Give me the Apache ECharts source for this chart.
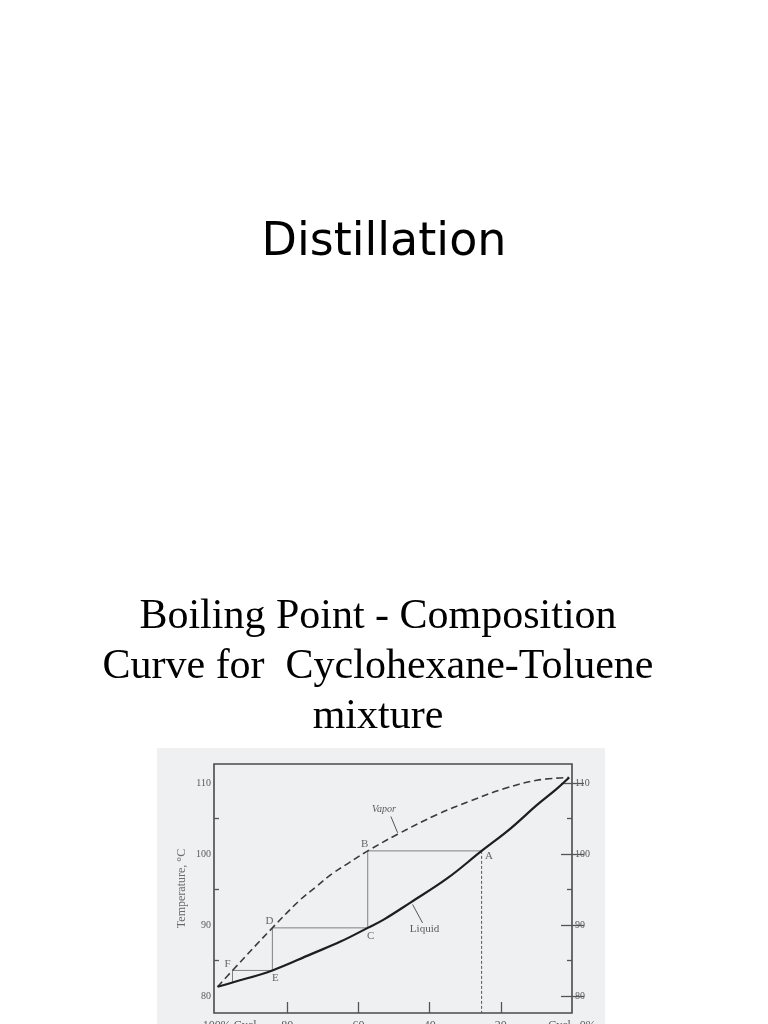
<!DOCTYPE html>
<html>
<head>
<meta charset="utf-8">
<script src="https://cdn.jsdelivr.net/npm/echarts@6/dist/echarts.min.js"></script>
<style>
html,body{margin:0;padding:0;background:#fff;}
#c{width:768px;height:1024px;}
</style>
</head>
<body>
<div id="c"></div>
<script>
// ---- data ----
const titleText = 'Distillation';
const subtitleLines = ['Boiling Point - Composition', 'Curve for  Cyclohexane-Toluene', 'mixture'];
const yAxisName = 'Temperature, \u00B0C';

// % cyclohexane (x) and temperature (°C)
const liquidX = [99.6, 95.4, 84.2, 73.3, 64.9, 57.4, 52.8, 45.3, 35.0, 25.4, 17.3, 9.9, 4.3, 0.8];
const liquidT = [81.3, 81.9, 83.6, 85.9, 87.7, 89.6, 90.8, 93.2, 96.6, 100.45, 103.6, 106.9, 109.2, 110.8];
const vaporX = [99.6, 95.4, 84.2, 76.5, 71.9, 67.2, 62.6, 57.4, 49.0, 37.8, 28.5, 19.2, 9.9, 0.8];
const vaporT = [81.3, 83.6, 89.6, 93.5, 95.4, 97.3, 98.8, 100.45, 102.8, 105.6, 107.5, 109.2, 110.4, 110.8];

// step construction A -> B -> C -> D -> E -> F -> down to liquid
const stepNames = ['A', 'B', 'C', 'D', 'E', 'F', ''];
const stepX = [25.4, 57.4, 57.4, 84.2, 84.2, 95.4, 95.4];
const stepT = [100.45, 100.45, 89.6, 89.6, 83.6, 83.6, 81.9];

// dashed drop line from A
const dropX = [25.4, 25.4];
const dropT = [100.45, 77.6];

// label pointers
const vaporPointerX = [50.9, 49.0];
const vaporPointerT = [105.3, 103.0];
const liquidPointerX = [44.8, 42.0];
const liquidPointerT = [92.9, 90.3];

const xTicks = [80, 60, 40, 20];
const xLabels = [100, 80, 60, 40, 20, 0];
const yMajor = [80, 90, 100, 110];
const yMinor = [85, 95, 105];
const xMin = 0, xMax = 100.6, yMin = 77.6, yMax = 112.7;

// ---- build ----
const zip = (xs, ys) => xs.map((x, i) => [x, ys[i]]);
const serif = 'Liberation Serif';
const labelGrey = '#5a5a5a';

const letterPos = {
  A: {position: 'right', distance: 3, offset: [0, 5]},
  B: {position: 'top', distance: 1, offset: [-3, 0]},
  C: {position: 'bottom', distance: 2, offset: [3, 0]},
  D: {position: 'top', distance: 1, offset: [-3, 0]},
  E: {position: 'bottom', distance: 2, offset: [3, 0]},
  F: {position: 'top', distance: 0, offset: [-5, 0]}
};
const letterData = stepNames.map((n, i) => ({name: n, value: [stepX[i], stepT[i]]}))
  .filter(d => d.name)
  .map(d => Object.assign(d, {label: Object.assign({show: true, formatter: d.name}, letterPos[d.name])}));

function yAxisDef(gridIndex, pos, values, len, showLabels) {
  return {
    type: 'value', gridIndex: gridIndex, position: pos, min: yMin, max: yMax,
    axisLine: {show: false},
    splitLine: {show: false},
    axisTick: {show: true, inside: true, length: len, customValues: values,
      lineStyle: {color: '#555', width: 1.3}},
    axisLabel: {show: showLabels, customValues: values, margin: 3,
      fontFamily: serif, fontSize: 10, color: labelGrey}
  };
}

const yAxes = [
  Object.assign(yAxisDef(0, 'left', yMajor, 12, true), {
    name: yAxisName, nameLocation: 'middle', nameGap: 26, nameRotate: 90,
    nameTextStyle: {fontFamily: serif, fontSize: 12, color: '#6a6a6a'}
  }),
  yAxisDef(0, 'right', yMajor, 11, true),
  yAxisDef(1, 'left', yMinor, 5, false),
  yAxisDef(1, 'right', yMinor, 5, false)
];

const gridBox = {left: 214, right: 196, top: 764, bottom: 11, outerBoundsMode: 'none', containLabel: false};

const option = {
  animation: false,
  graphic: [
    {type: 'rect', z: -10, shape: {x: 157, y: 748, width: 448, height: 280}, style: {fill: '#eef0f2'}},
    {type: 'text', x: 384, y: 243, style: {text: titleText, font: '46px "DejaVu Sans"', fill: '#000', align: 'center', verticalAlign: 'middle'}},
    {type: 'text', x: 378, y: 617, style: {text: subtitleLines[0], font: '42px "Liberation Serif"', fill: '#000', align: 'center', verticalAlign: 'middle'}},
    {type: 'text', x: 378, y: 667, style: {text: subtitleLines[1], font: '42px "Liberation Serif"', fill: '#000', align: 'center', verticalAlign: 'middle'}},
    {type: 'text', x: 378, y: 717, style: {text: subtitleLines[2], font: '42px "Liberation Serif"', fill: '#000', align: 'center', verticalAlign: 'middle'}}
  ],
  grid: [
    Object.assign({show: true, borderColor: '#4a4a4a', borderWidth: 1.6, backgroundColor: 'transparent'}, gridBox),
    Object.assign({show: false}, gridBox)
  ],
  xAxis: [{
    type: 'value', gridIndex: 0, inverse: true, min: xMin, max: xMax,
    axisLine: {show: false}, splitLine: {show: false},
    axisTick: {show: true, inside: true, length: 11, customValues: xTicks, lineStyle: {color: '#555', width: 1.3}},
    axisLabel: {
      customValues: xLabels, margin: 7, fontFamily: serif, fontSize: 12, color: labelGrey,
      formatter: v => v === 100 ? '{a|100% Cycl.}' : (v === 0 ? 'Cycl.  0%' : String(v)),
      rich: {a: {fontFamily: serif, fontSize: 12, color: labelGrey, padding: [0, 0, 0, 30]}}
    }
  }, {
    type: 'value', gridIndex: 1, show: false, min: xMin, max: xMax
  }],
  yAxis: yAxes,
  series: [
    {type: 'line', name: 'Step', data: zip(stepX, stepT), showSymbol: false, z: 3,
      lineStyle: {color: '#808080', width: 1}},
    {type: 'line', name: 'Drop', data: zip(dropX, dropT), showSymbol: false, z: 3,
      lineStyle: {color: '#555', width: 1, type: [3, 2]}},
    {type: 'line', name: 'Vapor', data: zip(vaporX, vaporT), smooth: 0.4, showSymbol: false, z: 4,
      lineStyle: {color: '#3a3a3a', width: 1.6, type: [7, 4]}},
    {type: 'line', name: 'Liquid', data: zip(liquidX, liquidT), smooth: 0.4, showSymbol: false, z: 4,
      lineStyle: {color: '#1e1e1e', width: 2.2}},
    {type: 'line', name: 'VaporPointer', data: zip(vaporPointerX, vaporPointerT), showSymbol: false, z: 4,
      lineStyle: {color: '#555', width: 1},
      markPoint: {symbol: 'circle', symbolSize: 0, data: [{coord: [vaporPointerX[0], vaporPointerT[0]], value: 'Vapor'}],
        label: {show: true, position: 'top', distance: 2, offset: [-7, 0], formatter: 'Vapor', fontFamily: serif, fontStyle: 'italic', fontSize: 10, color: labelGrey}}},
    {type: 'line', name: 'LiquidPointer', data: zip(liquidPointerX, liquidPointerT), showSymbol: false, z: 4,
      lineStyle: {color: '#555', width: 1},
      markPoint: {symbol: 'circle', symbolSize: 0, data: [{coord: [liquidPointerX[1], liquidPointerT[1]], value: 'Liquid'}],
        label: {show: true, position: 'bottom', distance: 1, offset: [2, 0], formatter: 'Liquid', fontFamily: serif, fontSize: 11, color: labelGrey}}},
    {type: 'scatter', name: 'Points', data: letterData, symbolSize: 1, z: 5,
      itemStyle: {color: 'rgba(0,0,0,0)'},
      label: {show: true, fontFamily: serif, fontSize: 11, color: '#444'}}
  ]
};

const chart = echarts.init(document.getElementById('c'));
chart.setOption(option);
</script>
</body>
</html>
